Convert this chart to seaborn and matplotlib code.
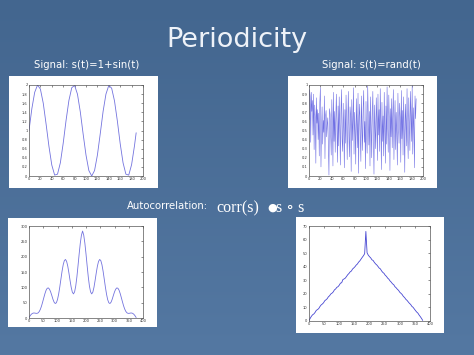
"""Periodicity slide: sine and random signals with their autocorrelations."""

import matplotlib
matplotlib.use("Agg")
import matplotlib.pyplot as plt
import numpy as np
import seaborn as sns
from matplotlib.patches import Rectangle

W, H = 474, 355

sine_t = [0, 5, 10, 15, 20, 25, 30, 35, 40, 45, 50, 55, 60, 65, 70, 75, 80, 85, 90, 95,
          100, 105, 110, 115, 120, 125, 130, 135, 140, 145, 150, 155, 160, 165, 170, 175,
          180, 185, 188]
sine_s = [1.00, 1.48, 1.84, 2.00, 1.91, 1.60, 1.14, 0.65, 0.24, 0.02, 0.04, 0.29, 0.72,
          1.22, 1.66, 1.94, 1.99, 1.80, 1.41, 0.92, 0.46, 0.12, 0.00, 0.12, 0.46, 0.93,
          1.42, 1.80, 1.99, 1.93, 1.65, 1.21, 0.71, 0.29, 0.04, 0.02, 0.25, 0.66, 0.95]

# signal 2: s(t) = rand(t), values in hundredths
rand_s = [
    62, 95, 88, 37, 92, 71, 83, 45, 90, 29, 78, 65, 14, 86, 58, 73, 40, 69, 22, 81,
    97, 10, 53, 76, 35, 61, 48, 88, 19, 66, 72, 43, 57, 64, 30, 1, 74, 68, 46, 23,
    84, 59, 11, 92, 38, 71, 26, 63, 90, 49, 15, 77, 33, 87, 55, 12, 69, 95, 41, 27,
    80, 52, 9, 73, 36, 89, 62, 18, 58, 93, 44, 21, 76, 67, 5, 84, 39, 61, 97, 24,
    70, 48, 13, 85, 57, 31, 91, 3, 66, 79, 42, 16, 88, 54, 28, 75, 94, 37, 60, 8,
    82, 46, 25, 99, 63, 34, 71, 11, 87, 56, 20, 68, 93, 40, 2, 78, 51, 30, 86, 64,
    17, 90, 45, 73, 27, 96, 59, 7, 81, 38, 66, 22, 92, 49, 14, 77, 35, 98, 55, 26,
    89, 61, 6, 74, 43, 85, 31, 67, 95, 18, 58, 83, 29, 70, 47, 12, 91, 53, 36, 80,
    65, 15, 94, 41, 72, 23, 87, 50, 4, 79, 62, 33, 96, 44, 19, 86, 57, 28, 93, 68,
    38, 99, 24, 75, 52, 9, 88, 63, 85,
]

# autocorrelation lags (0..376 step 4)
lag_x = list(range(0, 377, 4))

sine_corr = [
    1.5, 7.3, 12.0, 15.0, 16.3, 16.2, 15.3, 15.1, 16.7, 21.1, 28.7, 39.3, 52.4, 66.3,
    79.7, 90.6, 97.0, 98.1, 93.7, 85.0, 73.5, 61.2, 51.7, 47.2, 49.7, 60.1, 77.8, 101.0,
    127.0, 152.6, 173.6, 187.1, 190.9, 184.6, 169.1, 147.2, 122.7, 100.3, 84.4, 78.6,
    85.2, 104.2, 133.8, 170.5, 209.0, 244.1, 270.2, 283.5,
    270.2, 244.1, 209.0, 170.5, 133.8, 104.2, 85.2, 78.6, 84.4, 100.3, 122.7, 147.2,
    169.1, 184.6, 190.9, 187.1, 173.6, 152.6, 127.0, 101.0, 77.8, 60.1, 49.7, 47.2,
    51.7, 61.2, 73.5, 85.0, 93.7, 98.1, 97.0, 90.6, 79.7, 66.3, 52.4, 39.3, 28.7, 21.1,
    16.7, 15.1, 15.3, 16.2, 16.3, 15.0, 12.0, 7.3, 1.5,
]

rand_corr = [
    0.3, 2.0, 3.5, 4.6, 5.2, 6.3, 7.8, 8.4, 9.1, 10.6, 11.8, 12.5, 13.4, 14.9, 15.6,
    16.4, 17.8, 18.6, 19.9, 20.5, 21.4, 22.9, 23.6, 24.8, 25.3, 26.4, 27.9, 28.2, 30.5,
    31.0, 31.6, 32.8, 34.1, 35.0, 36.2, 36.8, 38.3, 39.1, 40.0, 41.2, 42.0, 43.4, 44.3,
    45.6, 46.9, 48.1, 49.6, 66.0, 50.2, 48.5, 47.4, 46.5, 45.1, 44.6, 43.2, 42.1, 41.3,
    40.2, 39.0, 38.4, 36.9, 35.8, 35.1, 33.7, 32.9, 31.6, 30.8, 29.5, 28.6, 27.4, 26.8,
    25.3, 24.5, 23.4, 22.6, 21.2, 20.4, 19.5, 18.1, 17.3, 16.0, 15.2, 14.1, 13.0, 12.2,
    10.8, 10.1, 8.9, 7.7, 6.6, 5.8, 4.4, 3.2, 1.9, 0.4,
]


def box(x0, y0, x1, y1):
    return [x0 / W, 1 - y1 / H, (x1 - x0) / W, (y1 - y0) / H]


def panel(fig, white, axbox, x, y, color, lw, xlim, xticks, ylim, yticks):
    bx = box(*white)
    fig.patches.append(Rectangle((bx[0], bx[1]), bx[2], bx[3], transform=fig.transFigure,
                                 facecolor="white", edgecolor="none", zorder=-5))
    ax = fig.add_axes(box(*axbox), zorder=1)
    ax.set_facecolor("white")
    sns.lineplot(x=x, y=y, ax=ax, color=color, linewidth=lw, estimator=None, sort=False)
    ax.set_xlim(*xlim)
    ax.set_ylim(*ylim)
    ax.set_xticks(xticks)
    ax.set_yticks(yticks)
    ax.set_xticklabels([f"{v:g}" for v in xticks])
    ax.set_yticklabels([f"{v:g}" for v in yticks])
    ax.tick_params(direction="in", length=1.5, width=0.4, labelsize=2.6, pad=1,
                   top=True, right=True, colors="#333333")
    for sp in ax.spines.values():
        sp.set_linewidth(0.5)
        sp.set_color("#555555")
        sp.set_visible(True)
    ax.set_xlabel("")
    ax.set_ylabel("")
    ax.grid(False)
    return ax


def main():
    sns.set_style("white")
    fig = plt.figure(figsize=(W / 100, H / 100), dpi=100)

    # slide background
    bg = fig.add_axes([0, 0, 1, 1], zorder=-10)
    grad = np.linspace(0, 1, 256)[:, None]
    cmap = matplotlib.colors.LinearSegmentedColormap.from_list("bg", ["#43668f", "#5478a2"])
    bg.imshow(grad, aspect="auto", cmap=cmap, extent=[0, 1, 0, 1], origin="upper")
    bg.axis("off")

    fig.text(237 / W, 1 - 40 / H, "Periodicity", ha="center", va="center",
             fontsize=19.5, color="#eef2f8", family="DejaVu Sans")
    fig.text(87 / W, 1 - 65 / H, "Signal: s(t)=1+sin(t)", ha="center", va="center",
             fontsize=7.3, color="white", family="DejaVu Sans")
    fig.text(371 / W, 1 - 65 / H, "Signal: s(t)=rand(t)", ha="center", va="center",
             fontsize=7.3, color="white", family="DejaVu Sans")
    fig.text(127 / W, 1 - 206 / H, "Autocorrelation:", ha="left", va="center",
             fontsize=7.3, color="white", family="DejaVu Sans")
    fig.text(216 / W, 1 - 208 / H, "corr(s)", ha="left", va="center",
             fontsize=11.5, color="white", family="Liberation Serif")
    fig.text(267 / W, 1 - 208 / H, "●", ha="left", va="center",
             fontsize=8, color="white", family="DejaVu Sans")
    fig.text(276 / W, 1 - 208 / H, "s ∘ s", ha="left", va="center",
             fontsize=11.5, color="white", family=["Liberation Serif", "DejaVu Serif"])

    t_rand = list(range(len(rand_s)))
    r_vals = [v / 100 for v in rand_s]

    panel(fig, (9, 76, 158, 188), (29, 85, 143, 176), sine_t, sine_s, "#7373de", 0.6,
          (0, 200), list(range(0, 201, 20)), (0, 2), [i / 5 for i in range(11)])
    panel(fig, (288, 76, 437, 188), (309, 85, 423, 176), t_rand, r_vals, "#7070e4", 0.4,
          (0, 200), list(range(0, 201, 20)), (0, 1), [i / 10 for i in range(11)])
    panel(fig, (8, 218, 157, 327), (29, 226, 143, 318), lag_x, sine_corr, "#7373de", 0.6,
          (0, 400), list(range(0, 401, 50)), (0, 300), list(range(0, 301, 50)))
    panel(fig, (296, 217, 444, 333), (309, 226, 430, 321), lag_x, rand_corr, "#4646d2", 0.6,
          (0, 400), list(range(0, 401, 50)), (0, 70), list(range(0, 71, 10)))

    fig.savefig("out.png", dpi=100)
    plt.close(fig)


if __name__ == "__main__":
    main()
